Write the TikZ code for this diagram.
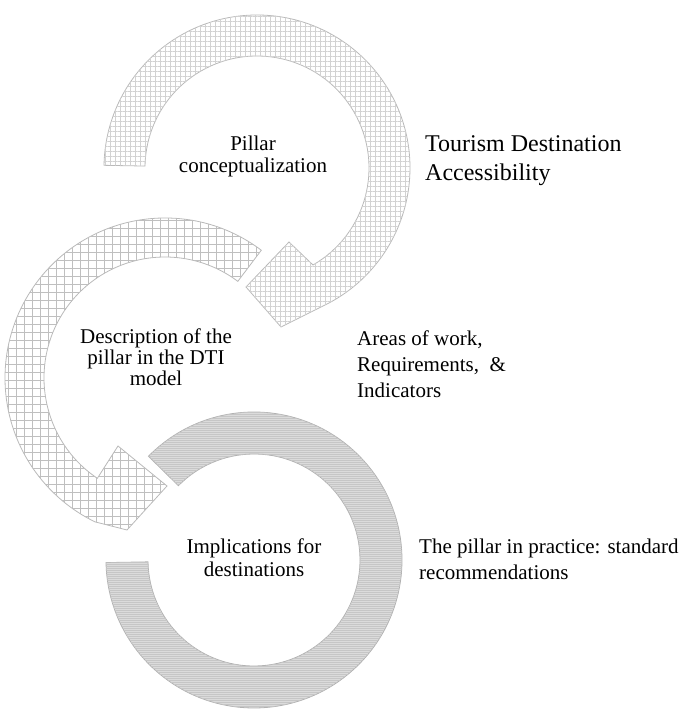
\documentclass[tikz,border=0pt]{standalone}
\usepackage{fontspec}
\setmainfont{Liberation Serif}
\usetikzlibrary{patterns.meta}
\begin{document}
\begin{tikzpicture}[x=1pt,y=1pt,
  arcA/.style={draw=gray!55,line width=0.8pt,fill=white,
    postaction={pattern={Lines[angle=0,distance=5pt,line width=0.5pt]},pattern color=gray!35},
    postaction={pattern={Lines[angle=90,distance=5pt,line width=0.5pt]},pattern color=gray!35}},
  arcB/.style={draw=gray!55,line width=0.8pt,fill=white,
    postaction={pattern={Lines[angle=0,distance=8pt,line width=0.7pt]},pattern color=gray!50},
    postaction={pattern={Lines[angle=90,distance=8pt,line width=0.7pt]},pattern color=gray!50}},
  arcC/.style={draw=gray!60,line width=0.8pt,fill=gray!28,
    postaction={pattern={Lines[angle=0,distance=2pt,line width=0.4pt]},pattern color=gray!45}},
  lbl/.style={font=\fontsize{21}{22}\selectfont,align=center,inner sep=0},
  side/.style={font=\fontsize{21}{26}\selectfont,align=left,anchor=west,inner sep=0}]
\useasboundingbox (0,0) rectangle (685,716);
% bottom ring
\begin{scope}[shift={(254,156)}]
\path[arcC] (135.5:148pt) arc[start angle=135.5,end angle=-179,radius=148pt]
  -- (-179:106pt) arc[start angle=-179,end angle=135.5,radius=106pt] -- cycle;
\end{scope}
% middle arrow
\begin{scope}[shift={(165,338)}]
\path[arcB] (53:121pt) -- (53:160pt) arc[start angle=53,end angle=244,radius=160pt]
  -- ([shift={(-165,-338)}]127,186) -- ([shift={(-165,-338)}]167,230)
  -- ([shift={(-165,-338)}]118,270) -- (236:121pt)
  arc[start angle=236,end angle=53,radius=121pt] -- cycle;
\end{scope}
% top arrow
\begin{scope}[shift={(257,548)}]
\path[arcA] (179:112pt) -- (179:153pt) arc[start angle=179,end angle=-65,radius=153pt]
  -- ([shift={(-257,-548)}]281,389) -- ([shift={(-257,-548)}]246,429)
  -- ([shift={(-257,-548)}]289,474) -- (-60:112pt)
  arc[start angle=-60,end angle=179,radius=112pt] -- cycle;
\end{scope}
\node[lbl] (p1) at (253,560) {Pillar\\conceptualization};
\node[side,font=\fontsize{24}{29}\selectfont] (t1) at (425,555) {Tourism Destination\\Accessibility};
\node[lbl,font=\fontsize{21}{21}\selectfont] (p2) at (156,359) {Description of the\\pillar in the DTI\\model};
\node[side] (t2) at (357,352) {Areas of work,\\Requirements,~~\&\\Indicators};
\node[lbl,font=\fontsize{21}{23}\selectfont] (p3) at (254,158) {Implications for\\destinations};
\node[side] (t3) at (419,157) {The pillar in practice: standard\\recommendations};
\end{tikzpicture}
\end{document}
